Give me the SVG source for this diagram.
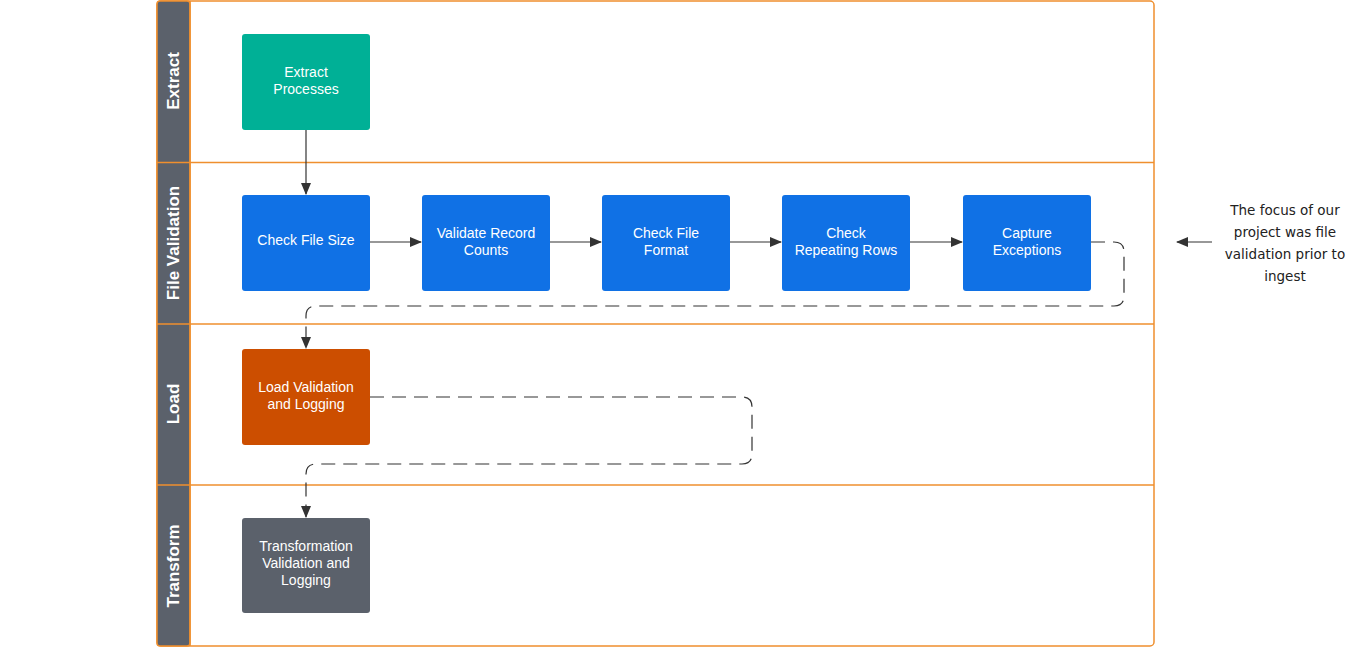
<svg xmlns="http://www.w3.org/2000/svg" width="1358" height="647" viewBox="0 0 1358 647">
<style>
.lane{fill:#ffffff;stroke:#ef8f2e;stroke-width:1.5}
.hdr{fill:#5b616b;stroke:#ef8f2e;stroke-width:1.5}
.hl{font-family:"Liberation Sans",Arial,sans-serif;font-size:17px;font-weight:bold;fill:#ffffff;text-anchor:middle}
.nt{font-family:"Liberation Sans",Arial,sans-serif;font-size:14px;fill:#ffffff;text-anchor:middle}
.c{fill:none;stroke:#333333;stroke-width:1.2}
.d{fill:none;stroke:#333333;stroke-width:1.2;stroke-dasharray:14 8}
.ann{font-family:"DejaVu Sans",sans-serif;font-size:13.5px;fill:#222222;text-anchor:middle}
</style>
<defs>
<marker id="ah" markerWidth="12" markerHeight="10" refX="11" refY="5" orient="auto" markerUnits="userSpaceOnUse">
<path d="M0,0 L12,5 L0,10 Z" fill="#333333"/>
</marker>
</defs>
<rect width="1358" height="647" fill="#ffffff"/>
<g id="lanes">
<rect class="lane" x="157" y="1" width="997" height="645" rx="4"/>
<rect class="hdr" x="157" y="1" width="33" height="645" rx="3"/>
<line x1="157" y1="162.500" x2="1154" y2="162.500" stroke="#ef8f2e" stroke-width="1.5"/>
<line x1="157" y1="324" x2="1154" y2="324" stroke="#ef8f2e" stroke-width="1.5"/>
<line x1="157" y1="485" x2="1154" y2="485" stroke="#ef8f2e" stroke-width="1.5"/>
<line x1="190" y1="1" x2="190" y2="646" stroke="#ef8f2e" stroke-width="1.5"/>
<text class="hl" transform="translate(179,81) rotate(-90)">Extract</text>
<text class="hl" transform="translate(179,243) rotate(-90)">File Validation</text>
<text class="hl" transform="translate(179,404) rotate(-90)">Load</text>
<text class="hl" transform="translate(179,566) rotate(-90)">Transform</text>
</g>
<g id="connectors">
<path class="c" d="M306,130 V194" marker-end="url(#ah)"/>
<path class="c" d="M370,242 H421" marker-end="url(#ah)"/>
<path class="c" d="M550,242 H601" marker-end="url(#ah)" stroke="#777"/>
<path class="c" d="M730,242 H781" marker-end="url(#ah)"/>
<path class="c" d="M910,242 H962" marker-end="url(#ah)"/>
<path class="d" d="M1091,242 H1114 Q1124,242 1124,252 V296 Q1124,306 1114,306 H316 Q306,306 306,316 V348" marker-end="url(#ah)"/>
<path class="d" d="M370,397 H742 Q752,397 752,407 V454 Q752,464 742,464 H316 Q306,464 306,474 V517" marker-end="url(#ah)"/>
<path class="c" d="M1212,242 H1177" marker-end="url(#ah)"/>
</g>
<g id="extract">
<rect x="242" y="34" width="128" height="96" rx="3" fill="#00b096"/>
<text class="nt" x="306" y="77">Extract</text>
<text class="nt" x="306" y="94">Processes</text>
</g>
<g id="check-size">
<rect x="242" y="195" width="128" height="96" rx="3" fill="#1071e5"/>
<text class="nt" x="306" y="245">Check File Size</text>
</g>
<g id="validate-counts">
<rect x="422" y="195" width="128" height="96" rx="3" fill="#1071e5"/>
<text class="nt" x="486" y="238">Validate Record</text>
<text class="nt" x="486" y="255">Counts</text>
</g>
<g id="check-format">
<rect x="602" y="195" width="128" height="96" rx="3" fill="#1071e5"/>
<text class="nt" x="666" y="238">Check File</text>
<text class="nt" x="666" y="255">Format</text>
</g>
<g id="check-rows">
<rect x="782" y="195" width="128" height="96" rx="3" fill="#1071e5"/>
<text class="nt" x="846" y="238">Check</text>
<text class="nt" x="846" y="255">Repeating Rows</text>
</g>
<g id="capture">
<rect x="963" y="195" width="128" height="96" rx="3" fill="#1071e5"/>
<text class="nt" x="1027" y="238">Capture</text>
<text class="nt" x="1027" y="255">Exceptions</text>
</g>
<g id="load">
<rect x="242" y="349" width="128" height="96" rx="3" fill="#cc4e00"/>
<text class="nt" x="306" y="392">Load Validation</text>
<text class="nt" x="306" y="409">and Logging</text>
</g>
<g id="transform">
<rect x="242" y="518" width="128" height="95" rx="3" fill="#5b616b"/>
<text class="nt" x="306" y="551">Transformation</text>
<text class="nt" x="306" y="568">Validation and</text>
<text class="nt" x="306" y="585">Logging</text>
</g>
<g id="annotation">
<text class="ann" x="1285" y="215">The focus of our</text>
<text class="ann" x="1285" y="237">project was file</text>
<text class="ann" x="1285" y="259">validation prior to</text>
<text class="ann" x="1285" y="281">ingest</text>
</g>
</svg>
